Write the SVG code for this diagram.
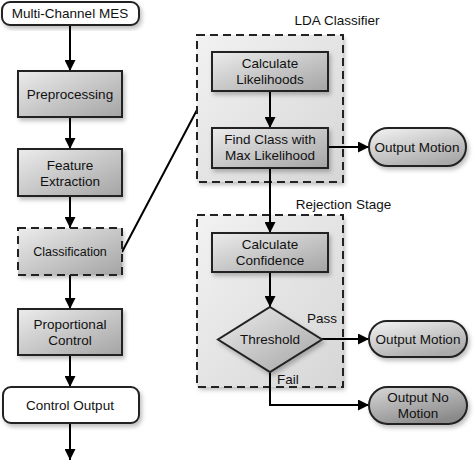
<svg xmlns="http://www.w3.org/2000/svg" width="474" height="460" viewBox="0 0 474 460">
<defs>
<linearGradient id="gBox" x1="0" y1="0" x2="1" y2="1">
<stop offset="0" stop-color="#ececec"/><stop offset="1" stop-color="#a4a4a4"/>
</linearGradient>
<linearGradient id="gPanel" x1="0" y1="0" x2="1" y2="1">
<stop offset="0" stop-color="#f2f2f2"/><stop offset="1" stop-color="#d6d6d6"/>
</linearGradient>
<linearGradient id="gOut" x1="0" y1="0" x2="0.6" y2="1">
<stop offset="0" stop-color="#f4f4f4"/><stop offset="1" stop-color="#aaaaaa"/>
</linearGradient>
<linearGradient id="gNo" x1="0" y1="0" x2="0.6" y2="1">
<stop offset="0" stop-color="#d8d8d8"/><stop offset="1" stop-color="#8a8a8a"/>
</linearGradient>
<filter id="sh" x="-10%" y="-10%" width="125%" height="135%">
<feDropShadow dx="2" dy="3" stdDeviation="2" flood-color="#000" flood-opacity="0.25"/>
</filter>
<marker id="ah" viewBox="0 0 10 10" refX="10" refY="5" markerWidth="11" markerHeight="11" markerUnits="userSpaceOnUse" orient="auto">
<path d="M0,0 L10,5 L0,10 Z" fill="#000"/>
</marker>
</defs>
<style>
text{font-family:"Liberation Sans",Arial,sans-serif;font-size:13.5px;fill:#111;text-anchor:middle}
.lbl{text-anchor:start}
.box{fill:url(#gBox);stroke:#222;stroke-width:2}
.term{fill:#fff;stroke:#222;stroke-width:2}
.dash{stroke:#222;stroke-width:2;stroke-dasharray:8,5}
.panel{fill:url(#gPanel)}
.conn{fill:none;stroke:#000;stroke-width:2}
.arr{marker-end:url(#ah)}
</style>

<g id="edges">
<line class="conn arr" x1="70" y1="25" x2="70" y2="71"/>
<line class="conn arr" x1="70" y1="117" x2="70" y2="149"/>
<line class="conn arr" x1="70" y1="196" x2="70" y2="228"/>
<line class="conn arr" x1="70" y1="275" x2="70" y2="309"/>
<line class="conn arr" x1="70" y1="355" x2="70" y2="387"/>
<line class="conn arr" x1="70" y1="423" x2="70" y2="460"/>
<line class="conn" x1="122" y1="252" x2="198" y2="108" stroke-width="3"/>
</g>

<g id="lda">
<rect class="panel" x="197" y="35" width="146" height="147" filter="url(#sh)"/>
<rect class="dash" fill="none" x="197" y="35" width="146" height="147"/>
<text x="337" y="25">LDA Classifier</text>
</g>
<g id="rejection">
<rect class="panel" x="197" y="215" width="146" height="172" filter="url(#sh)"/>
<rect class="dash" fill="none" x="197" y="215" width="146" height="172"/>
<text x="343.5" y="209">Rejection Stage</text>
</g>

<g id="edges2">
<line class="conn arr" x1="270" y1="91" x2="270" y2="128"/>
<line class="conn arr" x1="328" y1="147" x2="369" y2="147"/>
<line class="conn arr" x1="270" y1="168" x2="270" y2="233"/>
<line class="conn arr" x1="270" y1="272" x2="270" y2="307"/>
<line class="conn arr" x1="322" y1="339" x2="369" y2="339"/>
<polyline class="conn arr" points="270,372 270,405 369,405"/>
</g>

<g id="mes">
<rect class="term" x="2" y="2" width="137" height="23" rx="8" filter="url(#sh)"/>
<text x="70" y="18">Multi-Channel MES</text>
</g>
<g id="preprocessing">
<rect class="box" x="18" y="71" width="104" height="46" filter="url(#sh)"/>
<text x="70" y="99">Preprocessing</text>
</g>
<g id="feature">
<rect class="box" x="18" y="149" width="104" height="47" filter="url(#sh)"/>
<text x="70" y="170">Feature</text>
<text x="70" y="186">Extraction</text>
</g>
<g id="classification">
<rect class="box" x="18" y="228" width="104" height="47" style="stroke:none" filter="url(#sh)"/>
<rect class="dash" fill="none" x="18" y="228" width="104" height="47"/>
<text x="70" y="256" style="font-size:12.5px">Classification</text>
</g>
<g id="proportional">
<rect class="box" x="18" y="309" width="104" height="46" filter="url(#sh)"/>
<text x="70" y="329">Proportional</text>
<text x="70" y="345">Control</text>
</g>
<g id="controlout">
<rect class="term" x="3" y="387" width="136" height="36" rx="8" filter="url(#sh)"/>
<text x="70" y="410">Control Output</text>
</g>

<g id="calclike">
<rect class="box" x="212" y="52" width="116" height="39" filter="url(#sh)"/>
<text x="270" y="68">Calculate</text>
<text x="270" y="84">Likelihoods</text>
</g>
<g id="findclass">
<rect class="box" x="212" y="128" width="116" height="40" filter="url(#sh)"/>
<text x="270" y="144">Find Class with</text>
<text x="270" y="160">Max Likelihood</text>
</g>
<g id="out1">
<rect x="369" y="128" width="97" height="38" rx="19" fill="url(#gOut)" stroke="#222" stroke-width="2" filter="url(#sh)"/>
<text x="417" y="152">Output Motion</text>
</g>
<g id="calcconf">
<rect class="box" x="212" y="233" width="116" height="39" filter="url(#sh)"/>
<text x="270" y="249">Calculate</text>
<text x="270" y="265">Confidence</text>
</g>
<g id="threshold">
<polygon points="270,307 322,339.5 270,372 218,339.5" fill="url(#gBox)" stroke="#222" stroke-width="2" filter="url(#sh)"/>
<text x="270" y="344">Threshold</text>
<text class="lbl" x="307" y="323">Pass</text>
<text class="lbl" x="277" y="384">Fail</text>
</g>
<g id="out2">
<rect x="369" y="321" width="98" height="36" rx="18" fill="url(#gOut)" stroke="#222" stroke-width="2" filter="url(#sh)"/>
<text x="418" y="344">Output Motion</text>
</g>
<g id="outno">
<rect x="369" y="387" width="98" height="37" rx="18.5" fill="url(#gNo)" stroke="#222" stroke-width="2" filter="url(#sh)"/>
<text x="418" y="402">Output No</text>
<text x="418" y="418">Motion</text>
</g>
</svg>
